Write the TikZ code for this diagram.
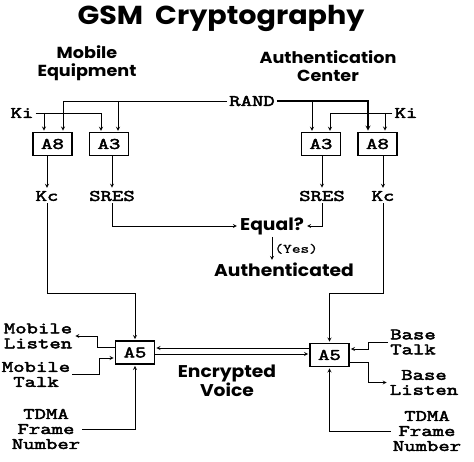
\documentclass[tikz,border=0pt]{standalone}
\usepackage{fontspec}
\usepackage{tikz}
\usetikzlibrary{arrows,positioning,calc}
\newfontfamily\monofont{Latin Modern Mono}[FakeStretch=1.38, FakeBold=3]
\newfontfamily\monolight{Latin Modern Mono}[FakeStretch=1.3, FakeBold=1]
\newfontfamily\heavyfont{Poppins}[FakeStretch=1.1]

\begin{document}
\begin{tikzpicture}[x=1pt, y=-1pt,
    txt/.style={font={\monofont\fontsize{16}{15}\selectfont}, align=center, inner sep=2pt},
    small/.style={font={\monolight\fontsize{13}{13}\selectfont}, inner sep=2pt},
    head/.style={font={\heavyfont\bfseries\fontsize{16}{17.5}\selectfont}, align=center, inner sep=0pt},
    heavy/.style={font={\heavyfont\bfseries\fontsize{17}{19}\selectfont}, align=center, inner sep=2pt},
    algo/.style={txt, draw, line width=1.8pt, minimum width=39pt, minimum height=23pt, inner sep=0pt},
    algo3/.style={algo, line width=1.3pt},
    arrow/.style={->, >=stealth, line width=0.8pt, shorten >=1pt}
]
    \useasboundingbox (0,0) rectangle (474,462);

    % headings
    \node[font={\heavyfont\bfseries\fontsize{26}{26}\selectfont}] (title) at (221,18) {GSM\ \ Cryptography};
    \node[head] (mobeq) at (87,63) {Mobile\\Equipment};
    \node[head] (authc) at (328,66) {Authentication\\Center};

    % key generation
    \node[txt] (rand) at (252,101) {RAND};
    \node[txt] (kil) at (22,113) {Ki};
    \node[txt] (kir) at (406,113) {Ki};
    \node[algo] (a8l) at (52.5,144) {A8};
    \node[algo3] (a3l) at (109,144) {A3};
    \node[algo3] (a3r) at (321,144) {A3};
    \node[algo] (a8r) at (377.5,144) {A8};
    \node[txt] (kcl) at (47,196) {Kc};
    \node[txt] (sresl) at (112,196) {SRES};
    \node[txt] (sresr) at (322,196) {SRES};
    \node[txt] (kcr) at (383,196) {Kc};
    \node[heavy] (equal) at (272,226) {Equal?};
    \node[heavy] (auth) at (284,270) {Authenticated};

    \draw[arrow] (rand.west) -| ([xshift=10.5pt]a8l.north);
    \draw[arrow] ([xshift=9pt]a3l.north |- rand.west) -- ([xshift=9pt]a3l.north);
    \draw[arrow] (kil.east) -| ([xshift=-8pt]a3l.north);
    \draw[arrow] ([xshift=-8.5pt]a8l.north |- kil.east) -- ([xshift=-8.5pt]a8l.north);
    \draw[arrow, line width=1.2pt] (rand.east) -| ([xshift=-9.5pt]a8r.north);
    \draw[arrow] ([xshift=-9pt]a3r.north |- rand.east) -- ([xshift=-9pt]a3r.north);
    \draw[arrow] (kir.west) -| ([xshift=9pt]a3r.north);
    \draw[arrow] ([xshift=7.5pt]a8r.north |- kir.west) -- ([xshift=7.5pt]a8r.north);

    \draw[arrow] (a8l.south -| kcl.north) -- (kcl.north);
    \draw[arrow] (a3l.south -| sresl.north) -- (sresl.north);
    \draw[arrow] (a3r.south -| sresr.north) -- (sresr.north);
    \draw[arrow] (a8r.south -| kcr.north) -- (kcr.north);

    \draw[arrow] (sresl.south) |- (equal.west);
    \draw[arrow] (sresr.south) |- (equal.east);
    \draw[arrow] (equal.south) -- (equal.south |- auth.north)
        node[small, midway, right] (yes) {(Yes)};

    % voice encryption
    \node[algo] (a5l) at (135,352.5) {A5};
    \node[algo] (a5r) at (329.5,355) {A5};
    \node[heavy] (crypt) at (227,381) {Encrypted\\Voice};
    \node[txt] (mlisten) at (38,336) {Mobile\\Listen};
    \node[txt] (mtalk) at (36,374.5) {Mobile\\Talk};
    \node[txt] (tdmal) at (46,429) {TDMA\\Frame\\Number};
    \node[txt] (btalk) at (413,342) {Base\\Talk};
    \node[txt] (blisten) at (424,382.5) {Base\\Listen};
    \node[txt] (tdmar) at (427,431) {TDMA\\Frame\\Number};

    \coordinate (kcbend) at (0,293);
    \draw[arrow] (kcl.south) -- (kcl.south |- kcbend) -| (a5l.north);
    \draw[arrow] (kcr.south) -- (kcr.south |- kcbend) -| (a5r.north);

    \coordinate (chtop) at ([yshift=7pt]a5r.west);
    \coordinate (chbot) at ([yshift=-1.5pt]a5l.east);
    \draw[arrow] (chtop) -- (chtop -| a5l.east);
    \draw[arrow] (chbot) -- (chbot -| a5r.west);

    \coordinate (mlout) at ([yshift=5.5pt]a5l.west);
    \coordinate (mtin) at ([yshift=-5.5pt]a5l.west);
    \draw[arrow] (mlout) -- ([xshift=-17pt]mlout) |- (mlisten.east);
    \draw[arrow] (mtalk.east) -| ([xshift=-15pt]mtin) -- (mtin);
    \draw[arrow] (tdmal.east) -| (a5l.south);

    \coordinate (btin) at ([yshift=6pt]a5r.east);
    \coordinate (blout) at ([yshift=-7pt]a5r.east);
    \draw[arrow] (btalk.west) -| ([xshift=18pt]btin) -- (btin);
    \draw[arrow] (blout) -- ([xshift=18pt]blout) |- (blisten.west);
    \draw[arrow] (tdmar.west) -| (a5r.south);
\end{tikzpicture}
\end{document}
